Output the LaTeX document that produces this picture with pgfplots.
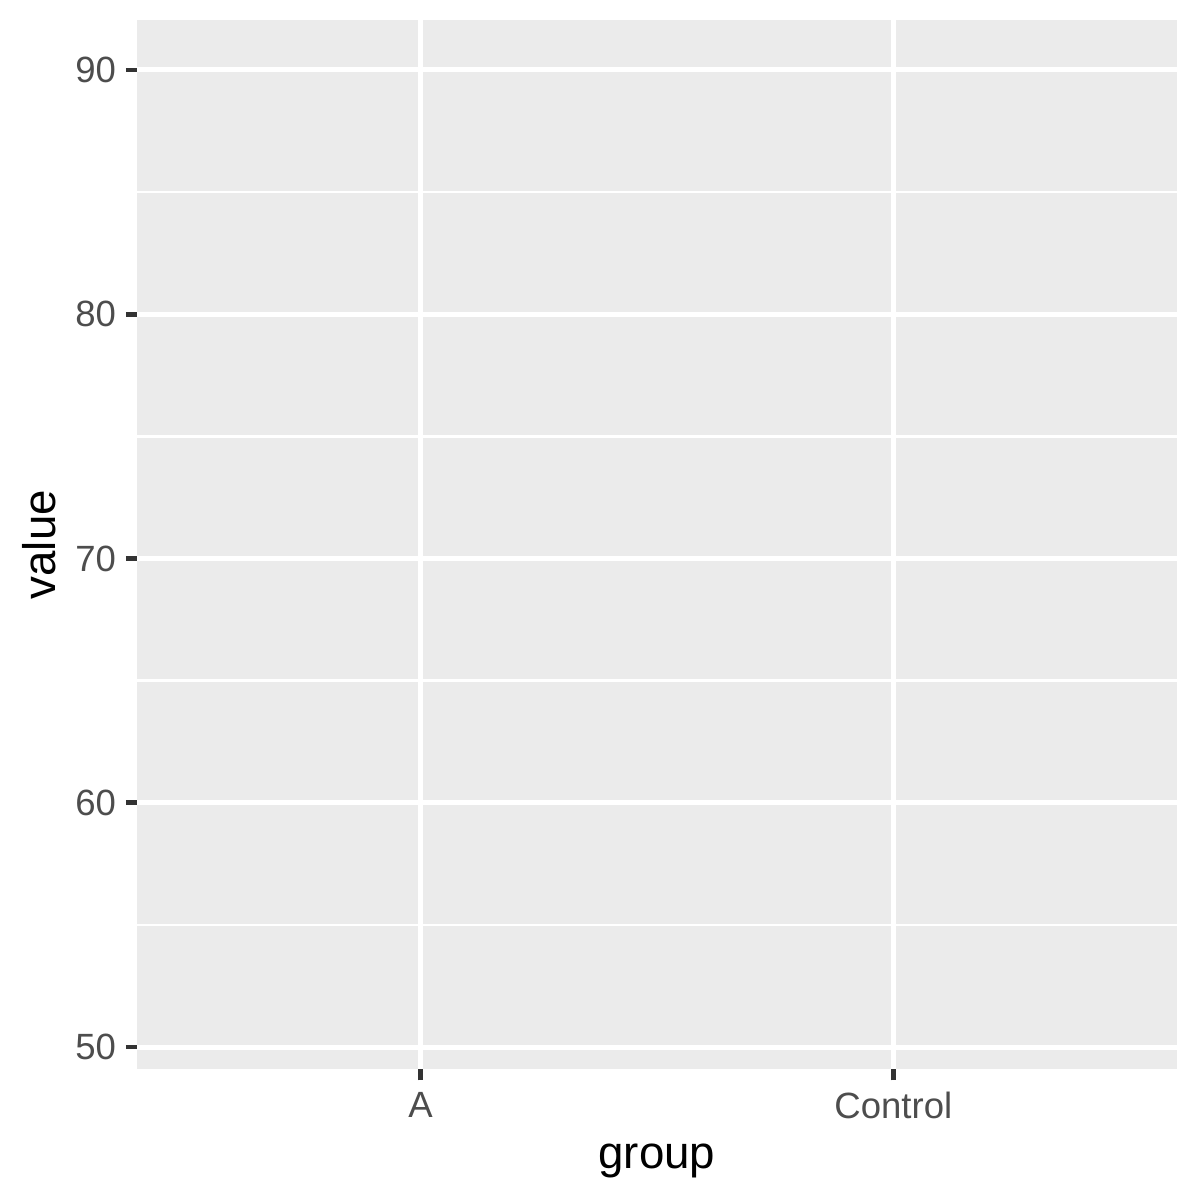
\documentclass[border=0pt]{standalone}
\usepackage{pgfplots}
\pgfplotsset{compat=1.18}
\usepackage{fontspec}
\setmainfont{Liberation Sans}
\definecolor{panel}{HTML}{EBEBEB}
\definecolor{tickc}{HTML}{333333}
\definecolor{labc}{HTML}{4D4D4D}
\begin{document}
\begin{tikzpicture}
\path[use as bounding box] (-33.00pt,-31.44pt) rectangle (256.08pt,257.64pt);
\begin{axis}[
  at={(0pt,0pt)}, anchor=south west,
  scale only axis, width=250.54pt, height=252.83pt,
  xmin=0.4, xmax=2.6, ymin=49.08, ymax=92.047,
  axis background/.style={fill=panel},
  axis line style={draw=none},
  xtick={1,2}, xticklabels={A,Control},
  ytick={50,60,70,80,90}, minor ytick={55,65,75,85},
  grid=both,
  major grid style={white, line width=1.2pt},
  minor grid style={white, line width=0.6pt},
  tick align=outside, tick pos=left,
  major tick length=2.65pt, minor tick length=0pt,
  every tick/.style={tickc, line width=1.1pt},
  /pgf/number format/assume math mode=true,
  ticklabel style={font=\fontsize{8.8}{10}\selectfont, text=labc},
  yticklabel style={inner xsep=2.2pt, inner ysep=0pt},
  xticklabel style={inner xsep=0pt, inner ysep=2.65pt},
  xlabel={group}, ylabel={value},
  label style={font=\fontsize{11}{13}\selectfont, text=black},
  xlabel style={at={(axis description cs:0.5,-0.0939)}, anchor=base},
  ylabel style={at={(axis description cs:-0.0788,0.5)}, anchor=base},
]
\addplot[draw=none, forget plot] coordinates {(1,70) (2,70)};
\end{axis}
\end{tikzpicture}
\end{document}
